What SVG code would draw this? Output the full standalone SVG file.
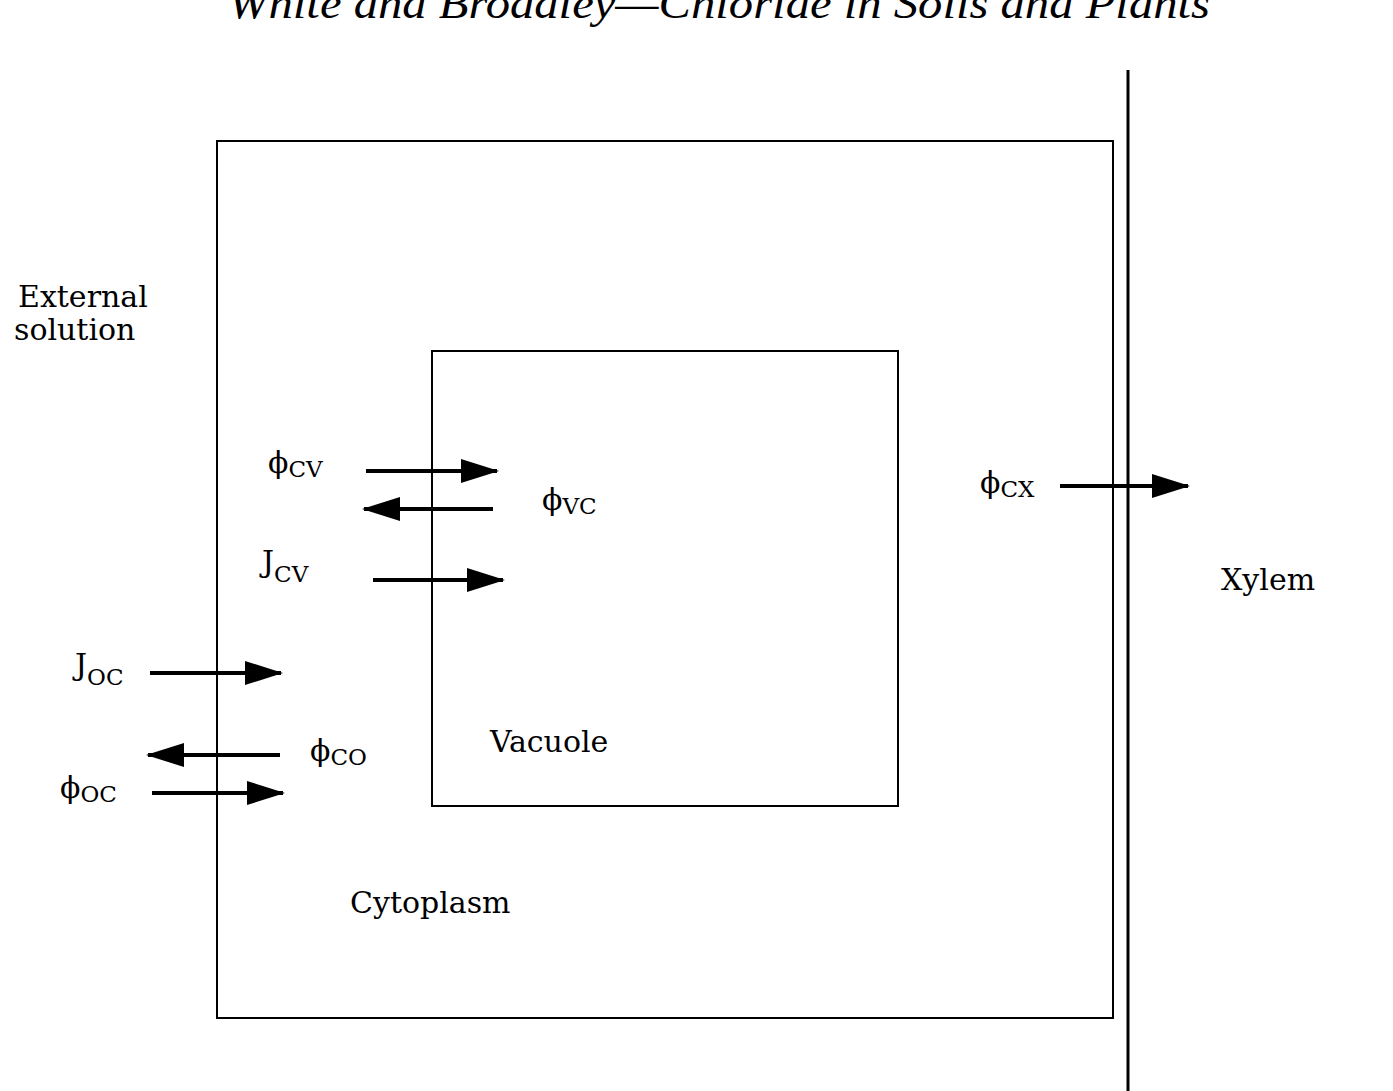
<svg xmlns="http://www.w3.org/2000/svg" width="1393" height="1091" viewBox="0 0 1393 1091">
<style>
text{font-family:"DejaVu Serif","Liberation Serif",serif;font-size:30px;fill:#000}
.sub{font-size:23px}
.box{fill:none;stroke:#000;stroke-width:2}
.ar{stroke:#000;stroke-width:4;fill:none}
</style>
<defs>
<marker id="ah" markerUnits="userSpaceOnUse" markerWidth="38" markerHeight="24" refX="36" refY="12" orient="auto">
<polygon points="0,0 38,12 0,24" fill="#000"/>
</marker>
</defs>
<rect width="1393" height="1091" fill="#fff"/>
<text x="228" y="18" textLength="982" lengthAdjust="spacingAndGlyphs" style="font-family:'Liberation Serif',serif;font-style:italic;font-size:44px">White and Broadley—Chloride in Soils and Plants</text>
<g id="cytoplasm"><rect class="box" x="217" y="141" width="896" height="877"/><text x="350" y="913">Cytoplasm</text></g>
<g id="vacuole"><rect class="box" x="432" y="351" width="466" height="455"/><text x="490" y="752">Vacuole</text></g>
<g id="xylem"><line x1="1128" y1="70" x2="1128" y2="1091" stroke="#000" stroke-width="3"/><text x="1221" y="590">Xylem</text></g>
<g id="external"><text x="18" y="307">External</text><text x="14" y="340">solution</text></g>
<g id="connectors">
<line class="ar" x1="366" y1="471" x2="497" y2="471" marker-end="url(#ah)"/>
<line class="ar" x1="493" y1="509" x2="364" y2="509" marker-end="url(#ah)"/>
<line class="ar" x1="373" y1="580" x2="503" y2="580" marker-end="url(#ah)"/>
<line class="ar" x1="150" y1="673" x2="281" y2="673" marker-end="url(#ah)"/>
<line class="ar" x1="280" y1="755" x2="148" y2="755" marker-end="url(#ah)"/>
<line class="ar" x1="152" y1="793" x2="283" y2="793" marker-end="url(#ah)"/>
<line class="ar" x1="1060" y1="486" x2="1188" y2="486" marker-end="url(#ah)"/>
</g>
<g id="labels">
<text x="268" y="473">ϕ<tspan class="sub" dy="4">CV</tspan></text>
<text x="542" y="510">ϕ<tspan class="sub" dy="4">VC</tspan></text>
<text x="262" y="572">J<tspan class="sub" dy="10">CV</tspan></text>
<text x="75" y="675">J<tspan class="sub" dy="10">OC</tspan></text>
<text x="310" y="761">ϕ<tspan class="sub" dy="4">CO</tspan></text>
<text x="60" y="798">ϕ<tspan class="sub" dy="4">OC</tspan></text>
<text x="980" y="493">ϕ<tspan class="sub" dy="4">CX</tspan></text>
</g>
</svg>
